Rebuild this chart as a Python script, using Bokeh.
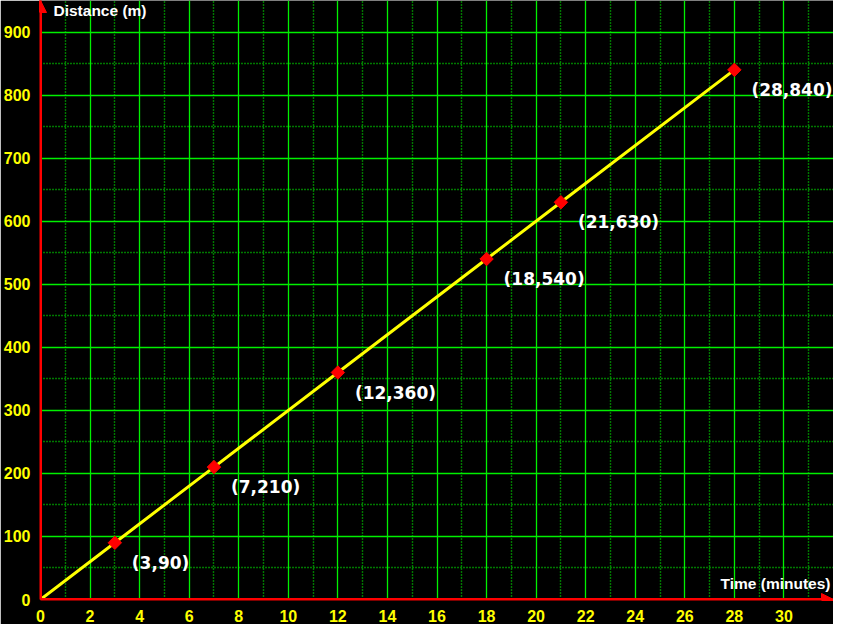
from bokeh.plotting import figure
from bokeh.models import Range1d, FixedTicker, Arrow, NormalHead, ColumnDataSource
from bokeh.core.properties import value
from bokeh.embed import file_html
from bokeh.resources import INLINE

# Data
times = [0, 3, 7, 12, 18, 21, 28]
distances = [0, 90, 210, 360, 540, 630, 840]
point_times = times[1:]
point_distances = distances[1:]
point_labels = [f"({t},{d})" for t, d in zip(point_times, point_distances)]
x_ticks = list(range(0, 31, 2))
x_minor = list(range(1, 32, 2))
y_ticks = list(range(0, 901, 100))
y_minor = list(range(50, 951, 100))
x_title = "Time (minutes)"
y_title = "Distance (m)"

X_MAX, Y_MAX = 32, 950
GREEN = "#00f000"

p = figure(width=833, height=624, output_backend="svg", toolbar_location=None,
           x_range=Range1d(0, X_MAX), y_range=Range1d(0, Y_MAX),
           min_border_left=30, min_border_right=0, min_border_top=0, min_border_bottom=22,
           background_fill_color="black", border_fill_color="black")
p.outline_line_color = None

for ax in (p.xaxis, p.yaxis):
    ax.axis_line_color = "red"
    ax.axis_line_width = 2
    ax.major_tick_line_color = None
    ax.minor_tick_line_color = None
    ax.major_label_text_color = "#ffff00"
    ax.major_label_text_font = "Liberation Sans"
    ax.major_label_text_font_style = "bold"
    ax.major_label_text_font_size = "16px"
    ax.major_label_standoff = 4

p.xaxis.ticker = FixedTicker(ticks=x_ticks)
p.yaxis.ticker = FixedTicker(ticks=y_ticks)
p.xgrid.ticker = FixedTicker(ticks=x_ticks + [X_MAX], minor_ticks=x_minor)
p.ygrid.ticker = FixedTicker(ticks=y_ticks, minor_ticks=y_minor)
for g in (p.xgrid, p.ygrid):
    g.grid_line_color = GREEN
    g.grid_line_width = 1.3
    g.minor_grid_line_color = GREEN
    g.minor_grid_line_width = 1.4
    g.minor_grid_line_dash = "1 2"

# axis arrows
p.add_layout(Arrow(end=NormalHead(size=12, fill_color="red", line_color="red"),
                   x_start=0, y_start=0, x_end=X_MAX, y_end=0,
                   line_color="red", line_width=3))
p.add_layout(Arrow(end=NormalHead(size=12, fill_color="red", line_color="red"),
                   x_start=0, y_start=0, x_end=0, y_end=Y_MAX,
                   line_color="red", line_width=3))

p.line(times, distances, line_color="#ffff00", line_width=3)
src = ColumnDataSource(dict(x=point_times, y=point_distances, label=point_labels))
p.scatter("x", "y", source=src, marker="square", angle=0.785398, size=9.5,
          fill_color="red", line_color="red")
p.text("x", "y", text="label", source=src, x_offset=17, y_offset=20,
       text_color="white", text_font=value("DejaVu Sans"), text_font_style="bold",
       text_font_size="17px", text_baseline="middle", text_align="left")

p.text(x=[0], y=[Y_MAX], text=[y_title], x_offset=13, y_offset=1,
       text_color="white", text_font=value("Liberation Sans"), text_font_style="bold",
       text_font_size="15.5px", text_baseline="top", text_align="left")
p.text(x=[X_MAX], y=[0], text=[x_title], x_offset=-3, y_offset=-16,
       text_color="white", text_font=value("Liberation Sans"), text_font_style="bold",
       text_font_size="15.5px", text_baseline="middle", text_align="right")

open("out.html", "w").write(file_html(p, INLINE))
